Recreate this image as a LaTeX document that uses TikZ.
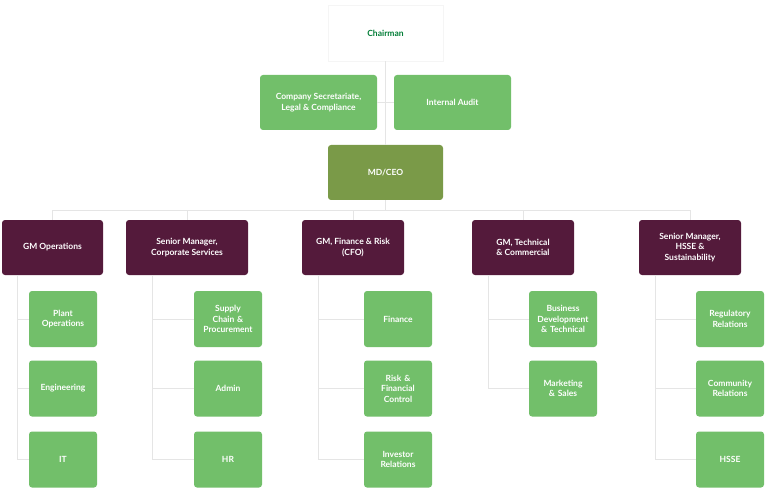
\documentclass[tikz,border=0pt]{standalone}
\usepackage{fontspec}
\setmainfont{Lato}
\begin{document}
\begin{tikzpicture}[x=1pt,y=-1pt,
 box/.style={rectangle,rounded corners=3pt,align=center,font=\bfseries\fontsize{8.5}{10.5}\selectfont,text=white,inner sep=1pt},
 top/.style={box,fill=white,draw=gray!8,text=teal!60!green!70!black,minimum width=115pt,minimum height=56pt,rounded corners=0pt},
 gbox/.style={box,fill=green!45!gray!60!white,fill=gf,minimum width=117pt,minimum height=55pt},
 ceo/.style={box,fill=cf,minimum width=115pt,minimum height=55pt},
 pbox/.style={box,fill=pf,minimum height=55pt},
 cbox/.style={box,fill=gf,minimum width=68pt,minimum height=56pt,text width=62pt},
 conn/.style={draw=black!10,line width=0.5pt}]
\definecolor{gf}{HTML}{72BF6A}
\definecolor{cf}{HTML}{7A9A48}
\definecolor{pf}{HTML}{541A3B}
\useasboundingbox (0,0) rectangle (768,497);
\node[top] (ch) at (385.5,33) {Chairman};
\node[gbox] (cs) at (318.5,102.5) {Company Secretariate,\\Legal \& Compliance};
\node[gbox] (ia) at (452.5,102.5) {Internal Audit};
\node[ceo] (md) at (385.5,172.5) {MD/CEO};
\node[pbox,minimum width=101pt] (p1) at (52.5,247.5) {GM Operations};
\node[pbox,minimum width=122pt] (p2) at (187,247.5) {Senior Manager,\\Corporate Services};
\node[pbox,minimum width=102pt] (p3) at (353,247.5) {GM, Finance \& Risk\\(CFO)};
\node[pbox,minimum width=102pt] (p4) at (523,247.5) {GM, Technical\\\& Commercial};
\node[pbox,minimum width=102pt] (p5) at (690,247.5) {Senior Manager,\\HSSE \&\\Sustainability};
\foreach \n/\x in {1/63,2/228,3/398,4/563,5/730}{\coordinate (r\n) at (\x,0);}
\node[cbox] (a1) at (63,319) {Plant\\Operations};
\node[cbox] (a2) at (63,388.5) {Engineering};
\node[cbox] (a3) at (63,459.5) {IT};
\node[cbox] (b1) at (228,319) {Supply\\Chain \&\\Procurement};
\node[cbox] (b2) at (228,388.5) {Admin};
\node[cbox] (b3) at (228,459.5) {HR};
\node[cbox] (c1) at (398,319) {Finance};
\node[cbox] (c2) at (398,388.5) {Risk \&\\Financial\\Control};
\node[cbox] (c3) at (398,459.5) {Investor\\Relations};
\node[cbox] (d1) at (563,319) {Business\\Development\\\& Technical};
\node[cbox] (d2) at (563,388.5) {Marketing\\\& Sales};
\node[cbox] (e1) at (730,319) {Regulatory\\Relations};
\node[cbox] (e2) at (730,388.5) {Community\\Relations};
\node[cbox] (e3) at (730,459.5) {HSSE};
% faint connectors
\draw[conn] (ch.south) -- (md.north);
\draw[conn] (cs.east) -- (ia.west);
\coordinate (bus) at (0,210);
\draw[conn] (md.south) -- (md.south |- bus);
\draw[conn] (p1.north |- bus) -- (p5.north |- bus);
\foreach \p in {p1,p2,p3,p4,p5}{\draw[conn] (\p.north |- bus) -- (\p.north);}
\foreach \p/\l/\c in {p1/a/3,p2/b/3,p3/c/3,p4/d/2,p5/e/3}{
  \draw[conn] (\p.south) ++(-35,0) coordinate (t) -- (t |- \l\c.west);
  \foreach \i in {1,...,\c}{\draw[conn] (t |- \l\i.west) -- (\l\i.west);}
}
\end{tikzpicture}
\end{document}
